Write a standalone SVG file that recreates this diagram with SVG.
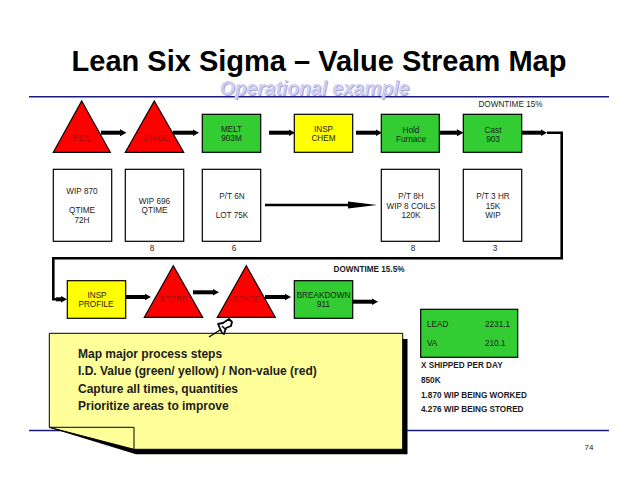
<svg xmlns="http://www.w3.org/2000/svg" width="638" height="493" viewBox="0 0 638 493">
<defs>
<marker id="ah" markerUnits="userSpaceOnUse" markerWidth="7" markerHeight="8" refX="0.500" refY="4" orient="auto"><path d="M0 0.500L6.500 4L0 7.500z" fill="#000"/></marker>
</defs>
<style>
text{font-family:"Liberation Sans",Arial,sans-serif;fill:#1c1c1c;text-anchor:middle}
.s{font-size:8.2px}
.st{text-anchor:start}
.b{font-size:8.2px;font-weight:bold}
.n{font-size:12px;font-weight:bold;text-anchor:start}
.dr{fill:#a01212}
.r{stroke:#000;stroke-width:1.2px}
.red{fill:#f00}.grn{fill:#33cc33}.yel{fill:#ff0}.wht{fill:#fff}
.c{fill:none;stroke:#000;stroke-width:4px}
.a{marker-end:url(#ah)}
</style>
<rect width="638" height="493" fill="#fff"/>
<text x="319" y="71" font-size="29" font-weight="bold" style="fill:#000">Lean Six Sigma – Value Stream Map</text>
<path d="M29 96.700H609M29 430.500H609" stroke="#1a1a80" stroke-width="1.400" fill="none"/>
<text x="315.500" y="96" font-size="19.300" font-weight="bold" font-style="italic" style="fill:#a8a8dc">Operational example</text>
<text x="314.500" y="95" font-size="19.300" font-weight="bold" font-style="italic" style="fill:#cfcff0">Operational example</text>
<text x="510.500" y="107" class="s">DOWNTIME 15%</text>
<g id="connectors">
<path class="c a" d="M101 132.700H120.500"/>
<path class="c a" d="M173 132.700H193"/>
<path class="c a" d="M269 132.700H289"/>
<path class="c a" d="M356 132.700H376"/>
<path class="c a" d="M439.500 132.700H457.500"/>
<path class="c a" d="M522 132.700H541"/>
<path d="M547 132.700H561.700V258.300H53.300V299.300H60" fill="none" stroke="#000" stroke-width="2.600"/>
<path class="c a" d="M56 299.300H61"/>
<path class="c a" d="M126 297H145"/>
<path class="c a" d="M193 292.300H213"/>
<path class="c a" d="M265 297H285"/>
<path class="c a" d="M353 301.700H372"/>
<path d="M265 203.700H348V201.500L377 205L348 208.500V206.300H265z" fill="#000"/>
</g>
<g id="rec"><path class="r red" d="M81.700 101L110.300 152.300H53.300z"/><text x="82" y="141" class="s dr">REC</text></g>
<g id="stage1"><path class="r red" d="M154.300 101L183.700 152.300H125.300z"/><text x="156" y="141" class="s dr">STAGE</text></g>
<g id="melt"><rect class="r grn" x="202.300" y="114.300" width="58.400" height="38"/><text x="231.500" y="132" class="s">MELT</text><text x="231.500" y="141" class="s">903M</text></g>
<g id="insp"><rect class="r yel" x="294.300" y="114.300" width="58.400" height="38"/><text x="323.500" y="131.500" class="s">INSP</text><text x="323.500" y="141" class="s">CHEM</text></g>
<g id="hold"><rect class="r grn" x="381.300" y="114.300" width="58" height="38"/><text x="411" y="132.500" class="s">Hold</text><text x="411" y="141.500" class="s">Furnace</text></g>
<g id="cast"><rect class="r grn" x="463.300" y="114.300" width="58.400" height="38"/><text x="493" y="132.500" class="s">Cast</text><text x="493" y="141.500" class="s">903</text></g>
<g id="box1"><rect class="r wht" x="53.300" y="169.300" width="58.400" height="72"/><text x="82" y="194" class="s">WIP 870</text><text x="82" y="213" class="s">QTIME</text><text x="82" y="223" class="s">72H</text></g>
<g id="box2"><rect class="r wht" x="125.300" y="169.300" width="58.400" height="72"/><text x="154.500" y="204" class="s">WIP 696</text><text x="154.500" y="213" class="s">QTIME</text></g>
<g id="box3"><rect class="r wht" x="202.300" y="169.300" width="58.400" height="72"/><text x="232" y="199" class="s">P/T 6N</text><text x="232" y="218" class="s">LOT 75K</text></g>
<g id="box4"><rect class="r wht" x="381.300" y="169.300" width="58" height="72"/><text x="411" y="199" class="s">P/T 8H</text><text x="411" y="208.500" class="s">WIP 8 COILS</text><text x="411" y="218" class="s">120K</text></g>
<g id="box5"><rect class="r wht" x="463.300" y="169.300" width="58.400" height="72"/><text x="493" y="199" class="s">P/T 3 HR</text><text x="493" y="208.500" class="s">15K</text><text x="493" y="218" class="s">WIP</text></g>
<text x="152" y="251" class="s">8</text><text x="234" y="251" class="s">6</text><text x="413" y="251" class="s">8</text><text x="495" y="251" class="s">3</text>
<text x="369" y="272" class="b">DOWNTIME 15.5%</text>
<g id="insp-profile"><rect class="r yel" x="67.300" y="280.700" width="58.400" height="37.600"/><text x="97" y="298" class="s">INSP</text><text x="96" y="307" class="s">PROFILE</text></g>
<g id="store"><path class="r red" d="M173.300 265.700L202.700 317.300H144.300z"/><text x="173.500" y="302" class="s dr">STORE</text></g>
<g id="stage2"><path class="r red" d="M246.300 265.700L275.300 317.300H217.300z"/><text x="246.500" y="302" class="s dr">STAGE</text></g>
<g id="breakdown"><rect class="r grn" x="294.300" y="280.700" width="58.400" height="37.600"/><text x="323.500" y="298" class="s">BREAKDOWN</text><text x="323.500" y="307" class="s">911</text></g>
<g id="summary"><rect class="r grn" x="420.700" y="309.300" width="97" height="48"/><text x="427" y="327" class="s st">LEAD</text><text x="485" y="327" class="s st">2231.1</text><text x="427" y="346" class="s st">VA</text><text x="485" y="346" class="s st">210.1</text></g>
<g id="stats">
<text x="421" y="368" class="b st">X SHIPPED PER DAY</text>
<text x="421" y="383" class="b st">850K</text>
<text x="421" y="398" class="b st">1.870 WIP BEING WORKED</text>
<text x="421" y="412" class="b st">4.276 WIP BEING STORED</text>
</g>
<g id="note">
<path d="M402.700 339H407.500V454.300H136L52 428.500z" fill="#000"/>
<path d="M49.300 333.300H402.700V449.300H134L49.300 427.300z" fill="#ffff99" stroke="#000" stroke-width="1"/>
<path d="M49.300 427.300H134V449.300z" fill="#ffff99" stroke="#000" stroke-width="1"/>
<text x="78" y="358" class="n">Map major process steps</text>
<text x="78" y="375" class="n">I.D. Value (green/ yellow) / Non-value (red)</text>
<text x="78" y="393" class="n">Capture all times, quantities</text>
<text x="78" y="410" class="n">Prioritize areas to improve</text>
</g>
<g id="pin">
<path d="M209 337L220 330" stroke="#000" stroke-width="1.300" fill="none"/>
<path d="M218 324L223 323L229 319L232 322L231 326L226 328L224 334L222 333z" fill="#fff" stroke="#000" stroke-width="1.800" stroke-linejoin="round"/>
<path d="M222 326L226 330" stroke="#000" stroke-width="1.500" fill="none"/>
</g>
<text x="589" y="450" font-size="8" style="fill:#222">74</text>
</svg>
